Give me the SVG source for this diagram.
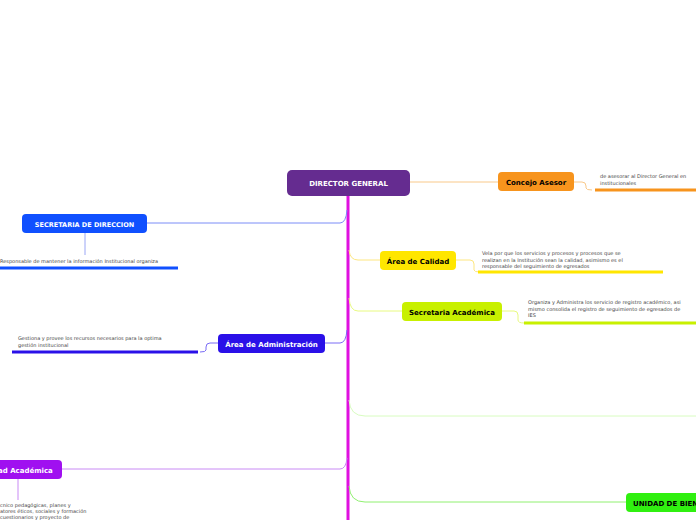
<svg xmlns="http://www.w3.org/2000/svg" width="696" height="520" viewBox="0 0 696 520">
<style>
.n{font-family:"DejaVu Sans",Verdana,sans-serif;font-weight:bold;font-size:7px;text-anchor:middle}
.d{font-family:"DejaVu Sans",Verdana,sans-serif;font-size:5px;fill:#444}
.c{fill:none;stroke-width:1}
</style>
<rect width="696" height="520" fill="#fff"/>
<g id="connectors">
<path d="M348 196 V520" stroke="#e010e0" stroke-width="3" fill="none"/>
<path class="c" stroke="#f9c98a" d="M410 182 H498"/>
<path class="c" stroke="#f9c98a" d="M574 182 H582 Q586 182 586 186 V188 Q586 190 592 190"/>
<path class="c" stroke="#7b8cf7" d="M147 223 H340 Q346 223 347 210"/>
<path class="c" stroke="#9aa6f5" d="M85 232 V255"/>
<path class="c" stroke="#fde680" d="M349 250 Q350 260 358 260 H380"/>
<path class="c" stroke="#fde680" d="M456 260 H470 Q474 260 474 264 V270 Q474 272 480 272"/>
<path class="c" stroke="#e8fa80" d="M349 298 Q350 311 358 311 H402"/>
<path class="c" stroke="#e8fa80" d="M502 311 H514 Q518 311 518 315 V320 Q518 323 524 323"/>
<path class="c" stroke="#7a6cf5" d="M325 343 H340 Q346 343 347 330"/>
<path class="c" stroke="#7a6cf5" d="M218 343 H210 Q206 343 206 347 V350 Q206 352 200 352"/>
<path class="c" stroke="#c98af5" d="M62 469 H340 Q346 469 347 458"/>
<path class="c" stroke="#c98af5" d="M18 478 V500"/>
<path class="c" stroke="#d8fcc0" d="M349 400 Q350 416 365 416 H696"/>
<path class="c" stroke="#90f070" d="M349 486 Q350 502 365 502 H626"/>
<path d="M595 190 H696" stroke="#f7941d" stroke-width="3"/>
<path d="M0 268 H178" stroke="#1050ff" stroke-width="3"/>
<path d="M478 272 H663" stroke="#ffe600" stroke-width="3"/>
<path d="M524 323 H696" stroke="#c8f000" stroke-width="3"/>
<path d="M12 352 H198" stroke="#2a10e8" stroke-width="3"/>
</g>
<g id="director"><rect x="287" y="170" width="123" height="26" rx="5" fill="#652c90"/><text class="n" x="348.5" y="186" fill="#fff" font-size="8">DIRECTOR GENERAL</text></g>
<g id="concejo"><rect x="498" y="172" width="76" height="19" rx="4" fill="#f7941d"/><text class="n" x="536" y="184.5" fill="#000">Concejo Asesor</text>
<text class="d" x="600" y="178">de asesorar al Director General en</text><text class="d" x="600" y="185">institucionales</text></g>
<g id="secretaria"><rect x="22" y="214" width="125" height="19" rx="4" fill="#1050ff"/><text class="n" x="84.5" y="226.5" fill="#fff" style="font-size:6.5px">SECRETARIA DE DIRECCION</text>
<text class="d" x="0" y="263">Responsable de mantener la información Institucional organiza</text></g>
<g id="calidad"><rect x="380" y="251" width="76" height="19" rx="4" fill="#ffe600"/><text class="n" x="418" y="263.5" fill="#000">Área de Calidad</text>
<text class="d" x="482" y="255">Vela por que los servicios y procesos y procesos que se</text><text class="d" x="482" y="261.5">realizan en la Institución sean la calidad, asimismo es el</text><text class="d" x="482" y="268">responsable del seguimiento de egresados</text></g>
<g id="secacad"><rect x="402" y="302" width="100" height="19" rx="4" fill="#c8f000"/><text class="n" x="452" y="314.5" fill="#000">Secretaria Académica</text>
<text class="d" x="528" y="304">Organiza y Administra los servicio de registro académico, asi</text><text class="d" x="528" y="310.5">mismo consolida el registro de seguimiento de egresados de</text><text class="d" x="528" y="317">IES</text></g>
<g id="admin"><rect x="218" y="334" width="107" height="19" rx="4" fill="#2a10e8"/><text class="n" x="271.5" y="346.5" fill="#fff">Área de Administración</text>
<text class="d" x="18" y="340">Gestiona y provee los recursos necesarios para la optima</text><text class="d" x="18" y="347">gestión institucional</text></g>
<g id="unidadacad"><rect x="-20" y="460" width="82" height="19" rx="4" fill="#a010f0"/><text class="n" x="-2" y="472.5" fill="#fff" style="text-anchor:start">ad Académica</text>
<text class="d" x="0" y="507">cnico pedagógicas, planes y</text><text class="d" x="0" y="513">atores éticos, sociales y formación</text><text class="d" x="0" y="519">cuestionarios y proyecto de</text></g>
<g id="bienestar"><rect x="626" y="493" width="90" height="19" rx="4" fill="#30f010"/><text class="n" x="633" y="505.5" fill="#000" style="text-anchor:start">UNIDAD DE BIENESTAR</text></g>
</svg>
